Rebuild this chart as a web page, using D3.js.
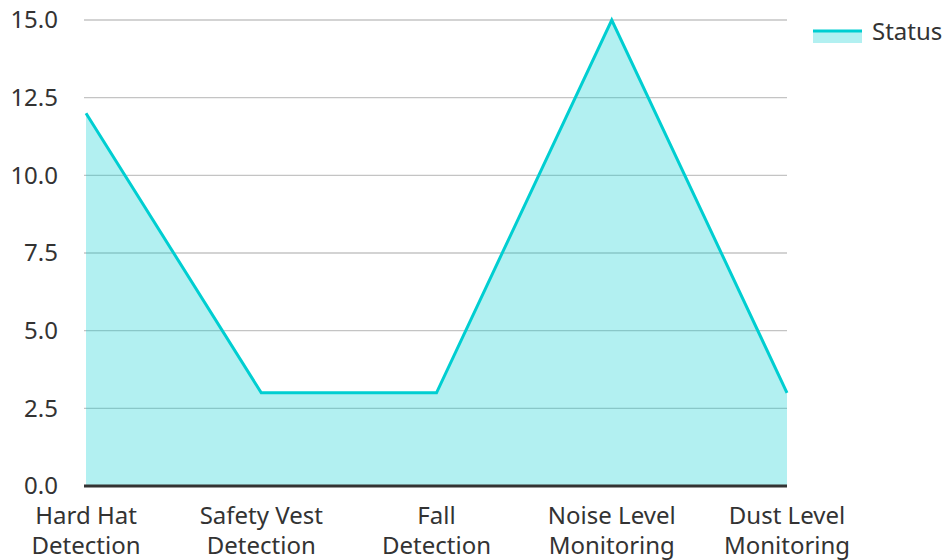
<!DOCTYPE html>
<html>
<head>
<meta charset="utf-8">
<script src="https://cdn.jsdelivr.net/npm/d3@7"></script>
<style>
  body { margin: 0; background: #fff; }
  text { font-family: "Noto Sans", "Open Sans", sans-serif; fill: #333; }
</style>
</head>
<body>
<div id="chart"></div>
<script>
// data
const categories = ["Hard Hat Detection", "Safety Vest Detection", "Fall Detection", "Noise Level Monitoring", "Dust Level Monitoring"];
const statusValues = [12, 3, 3, 15, 3];
const yTicks = [0, 2.5, 5, 7.5, 10, 12.5, 15];
const seriesName = "Status";

const lineColor = "#00ced1";

const margin = {top: 20, right: 158, bottom: 74, left: 86},
    width = 945 - margin.left - margin.right,
    height = 560 - margin.top - margin.bottom;

const svg = d3.select("#chart")
  .append("svg")
    .attr("width", 945)
    .attr("height", 560)
  .append("g")
    .attr("transform", `translate(${margin.left}, ${margin.top})`);

const x = d3.scalePoint()
  .domain(categories)
  .range([0, width]);

const y = d3.scaleLinear()
  .domain([0, 15])
  .range([height, 0]);

// gridlines
svg.append("g")
  .selectAll("line")
  .data(yTicks.filter(d => d > 0))
  .enter()
  .append("line")
    .attr("x1", -2)
    .attr("x2", width)
    .attr("y1", d => y(d))
    .attr("y2", d => y(d))
    .style("stroke", "#c4c4c4")
    .style("stroke-width", 1.3);

// y labels
svg.append("g")
  .selectAll("text")
  .data(yTicks)
  .enter()
  .append("text")
    .attr("x", -28)
    .attr("y", d => y(d))
    .attr("dy", "0.35em")
    .attr("text-anchor", "end")
    .style("font-size", "24px")
    .text(d => d.toFixed(1));

const data = categories.map((c, i) => ({cat: c, v: statusValues[i]}));

// area
svg.append("path")
  .datum(data)
  .attr("d", d3.area()
    .x(d => x(d.cat))
    .y0(y(0))
    .y1(d => y(d.v)))
  .style("fill", lineColor)
  .style("opacity", 0.3);

// line
svg.append("path")
  .datum(data)
  .attr("d", d3.line()
    .x(d => x(d.cat))
    .y(d => y(d.v)))
  .style("fill", "none")
  .style("stroke", lineColor)
  .style("stroke-width", 3)
  .style("stroke-linejoin", "miter");

// x axis line
svg.append("line")
  .attr("x1", -2)
  .attr("x2", width)
  .attr("y1", height)
  .attr("y2", height)
  .style("stroke", "#333")
  .style("stroke-width", 3);

// x labels, two lines
const xl = svg.append("g")
  .selectAll("text")
  .data(categories)
  .enter()
  .append("text")
    .attr("text-anchor", "middle")
    .attr("transform", d => `translate(${x(d)}, ${height + 38})`)
    .style("font-size", "24px");

xl.each(function(d) {
  const words = d.split(" ");
  const lines = [words.slice(0, -1).join(" "), words[words.length - 1]];
  d3.select(this).selectAll("tspan")
    .data(lines)
    .enter()
    .append("tspan")
      .attr("x", 0)
      .attr("dy", (l, i) => i === 0 ? 0 : 30)
      .text(l => l);
});

// legend
const legend = svg.append("g")
  .attr("transform", `translate(${width + 26}, 0)`);
legend.append("rect")
  .attr("x", 0)
  .attr("y", 10)
  .attr("width", 49)
  .attr("height", 13)
  .style("fill", lineColor)
  .style("opacity", 0.3);
legend.append("line")
  .attr("x1", 0)
  .attr("x2", 49)
  .attr("y1", 11)
  .attr("y2", 11)
  .style("stroke", lineColor)
  .style("stroke-width", 3);
legend.append("text")
  .attr("x", 59)
  .attr("y", 12)
  .attr("dy", "0.35em")
  .style("font-size", "24px")
  .text(seriesName);
</script>
</body>
</html>
